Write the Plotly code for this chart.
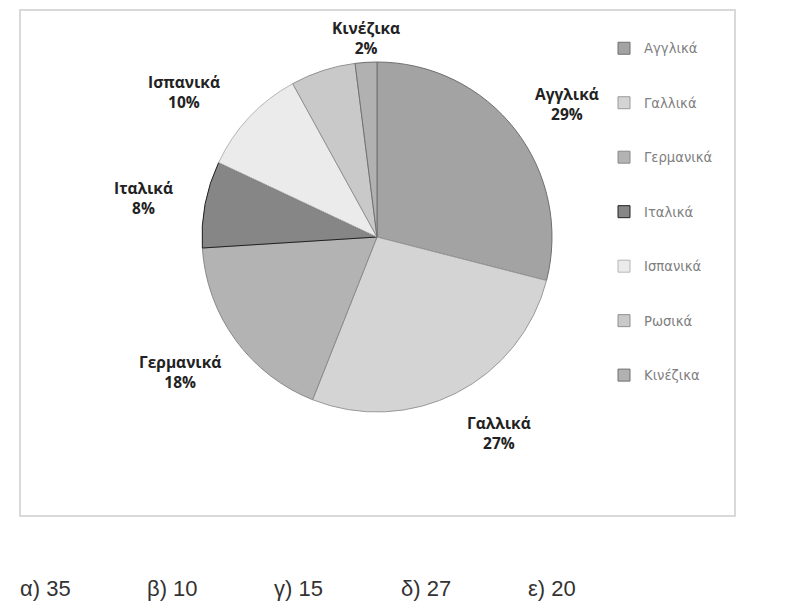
import math
import plotly.graph_objects as go

# data
languages = ["Αγγλικά", "Γαλλικά", "Γερμανικά", "Ιταλικά", "Ισπανικά", "Ρωσικά", "Κινέζικα"]
percent = [29, 27, 18, 8, 10, 6, 2]
show_label = [True, True, True, True, True, False, True]
slice_colors = ["#a3a3a3", "#d4d4d4", "#b3b3b3", "#868686", "#ebebeb", "#c9c9c9", "#b1b1b1"]
edge_colors = ["#6f6f6f", "#9a9a9a", "#8a8a8a", "#222222", "#b5b5b5", "#909090", "#707070"]
answers = ["α) 35", "β) 10", "γ) 15", "δ) 27", "ε) 20"]

W, H = 809, 605
PAGE = 8                    # default body margin of the html page
CX, CY, R = 377, 237, 175   # pie centre / radius in px
LABEL_R = 190               # where the data labels sit
# the spreadsheet's "best fit" pushed a few labels further / closer
LABEL_R_FIX = {"Ιταλικά": 206, "Ισπανικά": 212, "Κινέζικα": 176, "Αγγλικά": 180, "Γαλλικά": 194}
LABEL_MIDDLE = ("Ισπανικά",)


def px(x):
    return (x - PAGE) / W


def py(y):
    return 1 - (y - PAGE) / H


fig = go.Figure()
fig.add_trace(go.Pie(
    labels=["<br>" + l + "<br> " for l in languages],
    values=percent,
    sort=False,
    direction="clockwise",
    rotation=0,
    textinfo="none",
    marker=dict(colors=slice_colors, line=dict(color=edge_colors, width=1)),
    domain=dict(x=[px(CX - R), px(CX + R)], y=[py(CY + R), py(CY - R)]),
    hoverinfo="skip",
))

# data labels placed just outside each slice
annotations = []
total = sum(percent)
cum = 0
for name, v, show in zip(languages, percent, show_label):
    mid = (cum + v / 2) / total * 2 * math.pi
    cum += v
    if not show:
        continue
    dx, dy = math.sin(mid), math.cos(mid)
    r = LABEL_R_FIX.get(name, LABEL_R)
    xa = "left" if dx > 0.3 else ("right" if dx < -0.3 else "center")
    ya = "bottom" if dy > 0.3 else ("top" if dy < -0.3 else "middle")
    if name in LABEL_MIDDLE:
        ya = "middle"
    annotations.append(dict(
        x=px(CX + r * dx + (14 if name == "Αγγλικά" else 0)), y=py(CY - r * dy),
        xref="paper", yref="paper", xanchor=xa, yanchor=ya,
        text="<b>%s</b><br><b>%d%%</b>" % (name, v), showarrow=False, align="center",
        font=dict(family="Open Sans", size=15.5, color="#222222"),
    ))

# the answer choices under the chart
for i, a in enumerate(answers):
    annotations.append(dict(
        x=px(18 + i * 127), y=py(588), xref="paper", yref="paper",
        xanchor="left", yanchor="middle", text=a, showarrow=False,
        font=dict(family="Liberation Sans", size=22, color="#333333"),
    ))

fig.update_layout(
    width=W, height=H,
    margin=dict(l=0, r=0, t=0, b=0),
    paper_bgcolor="white",
    plot_bgcolor="white",
    showlegend=True,
    legend=dict(
        x=px(604), y=py(16), xanchor="left", yanchor="top",
        font=dict(family="DejaVu Sans", size=13.2, color="#808080"),
        valign="middle", bgcolor="rgba(0,0,0,0)",
    ),
    annotations=annotations,
    shapes=[dict(type="rect", xref="paper", yref="paper",
                 x0=px(20), x1=px(735), y0=py(516), y1=py(10),
                 line=dict(color="#d9d9d9", width=2))],
)

fig.write_html("out.html")
